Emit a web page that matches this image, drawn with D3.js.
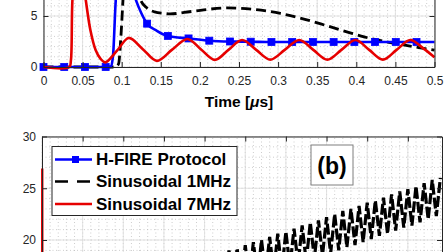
<!DOCTYPE html>
<html>
<head>
<meta charset="utf-8">
<script src="https://cdn.jsdelivr.net/npm/d3@7"></script>
<style>
  body { margin: 0; background: #fff; }
  svg { display: block; }
  text { font-family: "Liberation Sans", Arial, sans-serif; fill: #262626; }
</style>
</head>
<body>
<div id="chart"></div>
<script>
/* two stacked panels, only part of each is in view */
const width = 448, height = 252;

// ---- panel (a) data : voltage vs time [us]
const aXTicks = [0, 0.05, 0.1, 0.15, 0.2, 0.25, 0.3, 0.35, 0.4, 0.45, 0.5];
const aXLabels = ["0", "0.05", "0.1", "0.15", "0.2", "0.25", "0.3", "0.35", "0.4", "0.45", "0.5"];
const aYTicks = [0, 5];
const aYLabels = ["0", "5"];

const hfireTime  = [0, 0.0265, 0.053, 0.0795, 0.086, 0.089, 0.092, 0.096, 0.102, 0.106, 0.112, 0.118, 0.125, 0.1325, 0.145, 0.159, 0.1855, 0.212, 0.2385, 0.265, 0.2915, 0.318, 0.3445, 0.371, 0.3975, 0.424, 0.4505, 0.477, 0.5];
const hfireVolt  = [0, 0, 0, 0, 0, 1.2, 6, 10.5, 12, 11, 8.2, 6.6, 5.3, 4.25, 3.55, 3.05, 2.8, 2.58, 2.5, 2.48, 2.45, 2.45, 2.45, 2.45, 2.45, 2.45, 2.45, 2.45, 2.45];
const hfireMarkerTime = [0, 0.0265, 0.053, 0.0795, 0.106, 0.1325, 0.159, 0.1855, 0.212, 0.2385, 0.265, 0.2915, 0.318, 0.3445, 0.371, 0.3975, 0.424, 0.4505, 0.477];

const sin1Time = [0, 0.092, 0.096, 0.099, 0.102, 0.106, 0.112, 0.118, 0.124, 0.132, 0.142, 0.154, 0.162, 0.18, 0.205, 0.235, 0.269, 0.303, 0.333, 0.36, 0.39, 0.41, 0.44, 0.462, 0.48, 0.5];
const sin1Volt = [0, 0, 0.3, 3, 7, 11, 12, 9, 6.6, 5.8, 5.4, 5.25, 5.2, 5.35, 5.6, 5.8, 5.65, 5.25, 4.7, 4.1, 3.4, 2.95, 2.45, 2.15, 1.9, 1.65];

const sin7Time = [0, 0.033, 0.035, 0.037, 0.042, 0.048, 0.054, 0.06, 0.0665, 0.073, 0.079, 0.094, 0.109, 0.127, 0.145, 0.1645, 0.184, 0.2015, 0.219, 0.2365, 0.254, 0.272, 0.29, 0.3085, 0.327, 0.345, 0.363, 0.381, 0.399, 0.4165, 0.434, 0.4515, 0.469, 0.486, 0.5];
const sin7Volt = [0, 0, 0.6, 6.6, 11, 10, 6.6, 3.6, 1.7, 0.8, 0.45, 1.6, 2.85, 1.75, 0.6, 1.7, 2.75, 1.72, 0.7, 1.68, 2.65, 1.68, 0.72, 1.68, 2.65, 1.68, 0.72, 1.68, 2.65, 1.68, 0.72, 1.68, 2.65, 1.8, 0.95];

// ---- panel (b) data
const bXTicks = [0, 5, 10, 15, 20, 25, 30, 35, 40, 45];
const bYTicks = [20, 25, 30];
const bYLabels = ["20", "25", "30"];

const bSin1Time = [22, 22.5, 23, 23.5, 24, 24.5, 25, 25.5, 26, 26.5, 27, 27.5, 28, 28.5, 29, 29.5, 30, 30.5, 31, 31.5, 32, 32.5, 33, 33.5, 34, 34.5, 35, 35.5, 36, 36.5, 37, 37.5, 38, 38.5, 39, 39.5, 40, 40.5, 41, 41.5, 42, 42.5, 43, 43.5, 44, 44.5, 45, 45.5, 46, 46.5, 47, 47.5, 48, 48.5, 49];
const bSin1Temp = [18.7, 15.2, 19.0, 15.4, 19.2, 15.7, 19.5, 16.1, 19.8, 16.3, 20.0, 16.6, 20.3, 16.9, 20.6, 17.1, 20.8, 17.4, 21.1, 17.7, 21.4, 17.9, 21.7, 18.2, 21.9, 18.5, 22.2, 18.7, 22.5, 19.0, 22.8, 19.3, 23.0, 19.5, 23.3, 19.8, 23.6, 20.1, 23.8, 20.4, 24.1, 20.6, 24.4, 20.9, 24.7, 21.2, 24.9, 21.4, 25.2, 21.7, 25.5, 22.0, 25.8, 22.3, 26.0];
const bSin7Time = [0, 0.03, 0.06];
const bSin7Temp = [0, 26.9, 0];

const legendLabels = ["H-FIRE Protocol", "Sinusoidal 1MHz", "Sinusoidal 7MHz"];
const panelLabel = "(b)";

const blue = "#0000ff", red = "#e60000", black = "#000";
const axisColor = "#262626";

const svg = d3.select("#chart")
  .append("svg")
  .attr("width", width)
  .attr("height", height)
  .attr("viewBox", [0, 0, width, height]);

// scales
const xA = d3.scaleLinear().domain([0, 0.5]).range([43.5, 434.5]);
const yA = d3.scaleLinear().domain([0, 10]).range([67, -35]);
const xB = d3.scaleLinear().domain([0, 49.2]).range([42, 442]);
const yB = d3.scaleLinear().domain([0, 30]).range([447, 136.5]);

function grid(g, x, y, xMinor, yMinor, xMajor, yMajor) {
  const [x0, x1] = x.range(), [y0, y1] = y.range();
  g.selectAll(".vmin").data(xMinor).join("line")
    .attr("x1", d => x(d)).attr("x2", d => x(d)).attr("y1", y0).attr("y2", y1)
    .attr("stroke", "#b8b8b8").attr("stroke-width", 0.7).attr("stroke-dasharray", "1,2.5");
  g.selectAll(".hmin").data(yMinor).join("line")
    .attr("y1", d => y(d)).attr("y2", d => y(d)).attr("x1", x0).attr("x2", x1)
    .attr("stroke", "#b8b8b8").attr("stroke-width", 0.7).attr("stroke-dasharray", "1,2.5");
  g.selectAll(".vmaj").data(xMajor).join("line")
    .attr("x1", d => x(d)).attr("x2", d => x(d)).attr("y1", y0).attr("y2", y1)
    .attr("stroke", "#dcdcdc").attr("stroke-width", 0.8);
  g.selectAll(".hmaj").data(yMajor).join("line")
    .attr("y1", d => y(d)).attr("y2", d => y(d)).attr("x1", x0).attr("x2", x1)
    .attr("stroke", "#dcdcdc").attr("stroke-width", 0.8);
}

function styleAxis(g) {
  g.select(".domain").attr("stroke", axisColor);
  g.selectAll(".tick line").attr("stroke", axisColor);
  g.selectAll(".tick text").attr("fill", axisColor).style("font-size", "12px");
}

// ================= panel (a)
const pa = svg.append("g");
grid(pa.append("g"), xA, yA, xA.ticks(50), yA.ticks(10), aXTicks, yA.ticks(2));

const line = d3.line().curve(d3.curveMonotoneX);
const smooth = d3.line().curve(d3.curveCatmullRom.alpha(0.5));

const hfire = hfireTime.map((t, i) => [xA(t), yA(hfireVolt[i])]);
const sin1 = sin1Time.map((t, i) => [xA(t), yA(sin1Volt[i])]);
const sin7 = sin7Time.map((t, i) => [xA(t), yA(sin7Volt[i])]);

pa.append("path").attr("d", line(sin1))
  .attr("fill", "none").attr("stroke", black).attr("stroke-width", 2.8)
  .attr("stroke-dasharray", "10,5");
pa.append("path").attr("d", line(hfire))
  .attr("fill", "none").attr("stroke", blue).attr("stroke-width", 2.6);
pa.selectAll(".mk").data(hfireMarkerTime).join("rect")
  .attr("x", d => xA(d) - 3.5)
  .attr("y", d => yA(hfireVolt[hfireTime.indexOf(d)]) - 3.5)
  .attr("width", 7).attr("height", 7)
  .attr("fill", blue).attr("stroke", blue).attr("stroke-width", 0.8);
pa.append("path").attr("d", smooth(sin7))
  .attr("fill", "none").attr("stroke", red).attr("stroke-width", 2.6);

pa.append("g")
  .attr("transform", `translate(0,${yA(0)})`)
  .call(d3.axisBottom(xA).tickValues(aXTicks).tickFormat((d, i) => aXLabels[i])
    .tickSizeInner(-5).tickSizeOuter(0).tickPadding(9))
  .call(styleAxis);
pa.append("g")
  .attr("transform", `translate(${xA.range()[0]},0)`)
  .call(d3.axisLeft(yA).tickValues(aYTicks).tickFormat((d, i) => aYLabels[i])
    .tickSizeInner(-5).tickSizeOuter(0).tickPadding(6))
  .call(styleAxis);
pa.append("g")
  .attr("transform", `translate(${xA.range()[1]},0)`)
  .call(d3.axisRight(yA).tickValues(aYTicks).tickFormat("")
    .tickSizeInner(-5).tickSizeOuter(0))
  .call(styleAxis);

const xlab = pa.append("text")
  .attr("x", (xA.range()[0] + xA.range()[1]) / 2)
  .attr("y", 101)
  .attr("text-anchor", "middle")
  .attr("dominant-baseline", "central")
  .style("font-size", "15.5px")
  .style("font-weight", "bold")
  .style("fill", "#000");
xlab.append("tspan").text("Time [");
xlab.append("tspan").style("font-style", "italic").text("\u03bc");
xlab.append("tspan").text("s]");

// ================= panel (b)
const pb = svg.append("g");
grid(pb.append("g"), xB, yB, xB.ticks(50), yB.ticks(30), bXTicks, yB.ticks(6));

const bSin1 = bSin1Time.map((t, i) => [xB(t), yB(bSin1Temp[i])]);
const bSin7 = bSin7Time.map((t, i) => [xB(t), yB(bSin7Temp[i])]);

pb.append("path").attr("d", d3.line()(bSin1))
  .attr("fill", "none").attr("stroke", black).attr("stroke-width", 3.2)
  .attr("stroke-dasharray", "11,3");
pb.append("path").attr("d", d3.line()(bSin7))
  .attr("fill", "none").attr("stroke", red).attr("stroke-width", 2.4);

pb.append("g")
  .attr("transform", `translate(0,${yB.range()[1]})`)
  .call(d3.axisTop(xB).tickValues(bXTicks).tickFormat("")
    .tickSizeInner(-5).tickSizeOuter(0))
  .call(styleAxis);
pb.append("g")
  .attr("transform", `translate(${xB.range()[0]},0)`)
  .call(d3.axisLeft(yB).tickValues(bYTicks).tickFormat((d, i) => bYLabels[i])
    .tickSizeInner(-5).tickSizeOuter(0).tickPadding(6))
  .call(styleAxis);
pb.append("g")
  .attr("transform", `translate(${xB.range()[1]},0)`)
  .call(d3.axisRight(yB).tickValues(bYTicks).tickFormat("")
    .tickSizeInner(-5).tickSizeOuter(0))
  .call(styleAxis);

// legend
const leg = pb.append("g").attr("transform", "translate(52,146.5)");
leg.append("rect").attr("width", 185).attr("height", 69)
  .attr("fill", "#fff").attr("stroke", axisColor).attr("stroke-width", 1);
const rowY = [13, 35, 57.5];
const legStyle = [
  { color: blue, dash: null, marker: true },
  { color: black, dash: "13,9", marker: false },
  { color: red, dash: null, marker: false }
];
legendLabels.forEach((lab, i) => {
  const s = legStyle[i];
  leg.append("line").attr("x1", 3).attr("x2", 40).attr("y1", rowY[i]).attr("y2", rowY[i])
    .attr("stroke", s.color).attr("stroke-width", 2.6)
    .attr("stroke-dasharray", s.dash);
  if (s.marker) {
    leg.append("rect").attr("x", 23.5 - 3.5).attr("y", rowY[i] - 3.5)
      .attr("width", 7).attr("height", 7).attr("fill", blue);
  }
  leg.append("text").attr("x", 44).attr("y", rowY[i])
    .attr("dominant-baseline", "central")
    .style("font-size", "17px").style("font-weight", "bold").style("fill", "#000")
    .text(lab);
});

// panel tag
const tag = pb.append("g").attr("transform", "translate(311,145)");
tag.append("rect").attr("width", 42).attr("height", 40)
  .attr("fill", "#fff").attr("stroke", "#7f7f7f").attr("stroke-width", 1);
tag.append("text").attr("x", 21).attr("y", 20.5)
  .attr("text-anchor", "middle").attr("dominant-baseline", "central")
  .style("font-size", "23px").style("font-weight", "bold").style("fill", "#000")
  .text(panelLabel);
</script>
</body>
</html>
